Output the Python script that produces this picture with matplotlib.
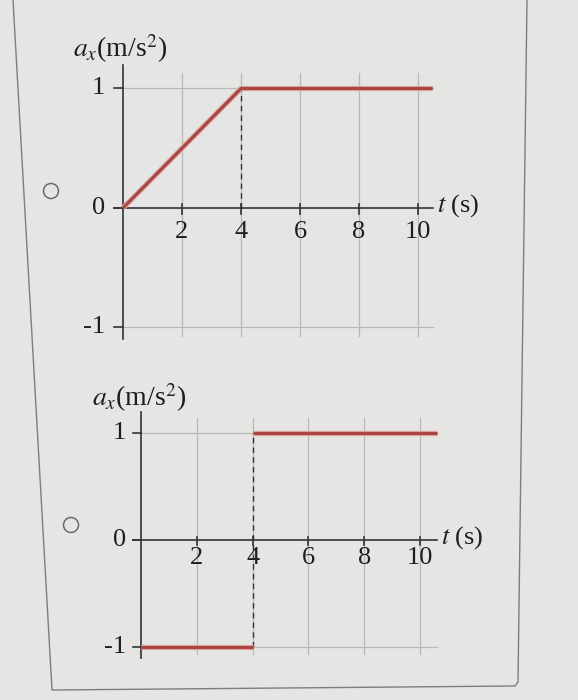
import matplotlib
matplotlib.use("Agg")
import matplotlib.pyplot as plt

plt.rcParams['font.family'] = ['Liberation Serif', 'DejaVu Serif']
plt.rcParams['mathtext.fontset'] = 'stix'

W, H = 578, 700

# chart data
x_ticks = [2, 4, 6, 8, 10]
y_ticks = [-1, 0, 1]
y_tick_labels = ['-1', '0', '1']

# option 1: ramp up to 1 at t = 4 s, then constant
t_ramp = [0, 4, 10.5]
a_ramp = [0, 1, 1]

# option 2: -1 until t = 4 s, then +1
t_low = [0, 4]
a_low = [-1, -1]
t_high = [4, 10.6]
a_high = [1, 1]
t_jump = 4

BG = '#e5e5e3'
AXIS = '#333333'
GRID = '#b8b8b6'
RED_EDGE = '#dca6a2'
RED = '#ab4540'
TXT = '#1e1e1e'


def make_axes(fig, x0, sx, y0, sy, xlim=(-3.0, 13.0), ylim=(-1.4, 1.6)):
    # place an axes so that data (0,0) sits at pixel (x0, y0)
    left = x0 + xlim[0] * sx
    right = x0 + xlim[1] * sx
    top = y0 - ylim[1] * sy
    bottom = y0 - ylim[0] * sy
    ax = fig.add_axes([left / W, 1 - bottom / H, (right - left) / W, (bottom - top) / H])
    ax.set_xlim(*xlim)
    ax.set_ylim(*ylim)
    ax.axis('off')
    ax.patch.set_alpha(0)
    return ax


def draw_frame(ax, x_end, grid_top, grid_bot, axis_top, axis_bot, lab_dx, xlab_dy, label_pos):
    for x in x_ticks:
        ax.plot([x, x], [grid_bot, grid_top], color=GRID, lw=0.9, zorder=1)
    for y in (1, -1):
        ax.plot([0, x_end], [y, y], color=GRID, lw=0.9, zorder=1)
    ax.plot([-0.3, x_end], [0, 0], color=AXIS, lw=1.2, zorder=3)
    ax.plot([0, 0], [axis_bot, axis_top], color=AXIS, lw=1.2, zorder=3)
    for y, lab in zip(y_ticks, y_tick_labels):
        ax.plot([-0.3, 0], [y, y], color=AXIS, lw=1.2, zorder=3)
        ax.text(lab_dx, y, lab, ha='right', va='center', fontsize=19, color=TXT)
    for x in x_ticks:
        ax.plot([x, x], [-0.05, 0.03], color=AXIS, lw=1.2, zorder=3)
        ax.text(x, xlab_dy, str(x), ha='center', va='center', fontsize=19, color=TXT)
    ax.text(x_end + 0.15, 0.02, r'$t$ (s)', ha='left', va='center', fontsize=19, color=TXT)
    ax.text(label_pos[0], label_pos[1], r'$a_x$(m/s$^2$)', ha='left', va='center',
            fontsize=20, color=TXT)


fig = plt.figure(figsize=(W / 100, H / 100), dpi=100)
fig.patch.set_facecolor(BG)

# page background: card border and radio buttons, in pixel coordinates
bg = fig.add_axes([0, 0, 1, 1])
bg.set_xlim(0, W)
bg.set_ylim(H, 0)
bg.axis('off')
bg.plot([13, 52, 515, 518, 527], [0, 690, 686, 682, 0], color='#7d7d7d', lw=1.0)
for cx, cy in [(51, 191), (71, 525)]:
    bg.add_patch(plt.Circle((cx, cy), 7.5, fill=False, ec='#6a6a6a', lw=1.1))

# top chart
ax1 = make_axes(fig, 123, 29.5, 208, 119.5)
draw_frame(ax1, 10.5, 1.13, -1.07, 1.2, -1.1, -0.6, -0.2, (-1.7, 1.33))
ax1.plot(t_ramp, a_ramp, color=RED_EDGE, lw=3.8, solid_capstyle='butt', zorder=4)
ax1.plot(t_ramp, a_ramp, color=RED, lw=2.2, solid_capstyle='butt', zorder=5)
ax1.plot([t_jump, t_jump], [0, a_ramp[1]], color=AXIS, lw=1.0, ls=(0, (4, 3)), zorder=2)

# bottom chart
ax2 = make_axes(fig, 141, 27.9, 540, 107)
draw_frame(ax2, 10.6, 1.14, -1.07, 1.2, -1.1, -0.55, -0.17, (-1.75, 1.33))
for t, a in [(t_low, a_low), (t_high, a_high)]:
    ax2.plot(t, a, color=RED_EDGE, lw=3.8, solid_capstyle='butt', zorder=4)
    ax2.plot(t, a, color=RED, lw=2.2, solid_capstyle='butt', zorder=5)
ax2.plot([t_jump, t_jump], [a_low[-1], a_high[0]], color=AXIS, lw=1.0, ls=(0, (4, 3)), zorder=2)

fig.savefig('out.png', dpi=100, facecolor=BG)
